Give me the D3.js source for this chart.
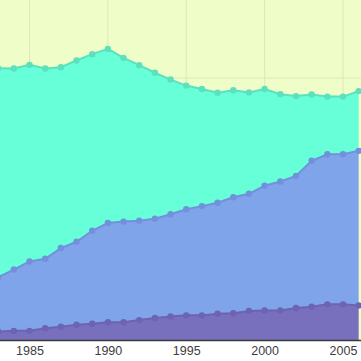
<!DOCTYPE html>
<html><head><meta charset="utf-8">
<script src="https://cdn.jsdelivr.net/npm/d3@7"></script>
<style>html,body{margin:0;padding:0;background:#fff;}svg{display:block;}</style>
</head><body>
<svg id="chart" width="361" height="361"></svg>
<script>
const years = [1983,1984,1985,1986,1987,1988,1989,1990,1991,1992,1993,1994,1995,1996,1997,1998,1999,2000,2001,2002,2003,2004,2005,2006];
const seriesA = [3.2,3.5,3.5,4.5,5.1,5.8,6.2,6.8,6.8,7.6,8.4,9.0,9.4,9.4,10.0,10.2,11.1,11.3,11.3,12.2,12.7,13.6,13.6,13.2];
const seriesB = [20.7,23.4,26.5,26.5,30.0,31.7,35.5,37.9,38.4,37.9,37.9,39.0,40.5,41.7,42.4,44.3,44.7,47.6,49.2,50.4,55.7,57.3,57.3,59.0];
const seriesC = [79.8,76.7,75.0,72.6,69.0,69.2,67.4,66.4,62.5,59.4,55.7,51.4,47.2,44.7,42.0,40.8,38.7,36.9,33.3,30.5,25.3,22.0,22.0,22.8];
const xTicks = [1985,1990,1995,2000,2005];
const yTicks = [0,100];

const keys = ["a","b","c"];
const fills = {a:"#7870bd", b:"#7fa4ea", c:"#66ffd7"};
const strokes = {a:"#6c63b3", b:"#7390dc", c:"#5ce0bd"};

const table = years.map((y,i)=>({year:y, a:seriesA[i], b:seriesB[i], c:seriesC[i]}));
const stacked = d3.stack().keys(keys)(table);

const svg = d3.select("#chart");
const W = 361, H = 361;
const x = d3.scaleLinear().domain([1985,2005]).range([29.5,343]);
const y = d3.scaleLinear().domain([0,100]).range([340,78]);

svg.append("rect").attr("x",0).attr("y",0).attr("width",W).attr("height",340).attr("fill","#effdc9");

const grid = svg.append("g");
grid.selectAll("line.v").data(xTicks).join("line").attr("class","v")
  .attr("x1",d=>x(d)).attr("x2",d=>x(d)).attr("y1",0).attr("y2",340)
  .attr("stroke","#dfe6bb").attr("stroke-width",1);
grid.selectAll("line.h").data(yTicks).join("line").attr("class","h")
  .attr("x1",0).attr("x2",W).attr("y1",d=>y(d)).attr("y2",d=>y(d))
  .attr("stroke","#dfe6bb").attr("stroke-width",1);

const area = d3.area().x(d=>x(d.data.year)).y0(d=>y(d[0])).y1(d=>y(d[1]));
const line = d3.line().x(d=>x(d.data.year)).y(d=>y(d[1]));

const g = svg.append("g");
stacked.forEach(s=>{
  g.append("path").datum(s).attr("d",area).attr("fill",fills[s.key]);
});
stacked.forEach(s=>{
  g.append("path").datum(s).attr("d",line).attr("fill","none")
   .attr("stroke",strokes[s.key]).attr("stroke-width",2);
  g.selectAll("circle.p"+s.key).data(s).join("circle").attr("class","p"+s.key)
   .attr("cx",d=>x(d.data.year)).attr("cy",d=>y(d[1])).attr("r",3.2)
   .attr("fill",strokes[s.key]);
});

const axis = d3.axisBottom(x).tickValues(xTicks).tickFormat(d3.format("d")).tickSize(0).tickPadding(6);
const ax = svg.append("g").attr("transform","translate(0,340)").call(axis);
ax.select(".domain").remove();
ax.append("line").attr("x1",0).attr("x2",W).attr("y1",0.5).attr("y2",0.5).attr("stroke","#3a3a3a").attr("stroke-width",1.5);
ax.selectAll("text").attr("fill","#3d3d3d").style("font-family","'Liberation Sans', Arial, sans-serif").style("font-size","12.5px");
</script>
</body></html>
